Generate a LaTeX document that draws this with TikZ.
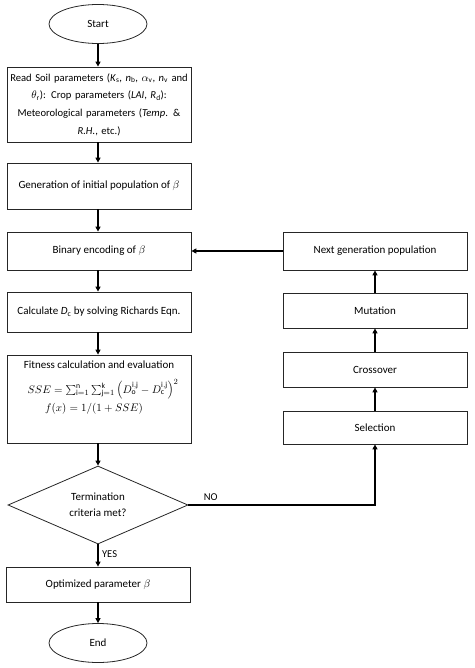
\documentclass[tikz,border=0pt]{standalone}
\usepackage{fontspec}
\setmainfont{Carlito}
\usetikzlibrary{shapes.geometric,arrows.meta}
\begin{document}
\begin{tikzpicture}[x=1pt,y=-1pt,
  font=\fontsize{11}{17.7}\selectfont,
  box/.style={draw=black!85,line width=0.8pt,rectangle,minimum width=184pt,align=center,inner sep=0pt},
  term/.style={draw=black!85,line width=0.8pt,ellipse,minimum width=98pt,minimum height=39pt,inner sep=0pt},
  dec/.style={draw=black!85,line width=0.8pt,diamond,minimum width=180pt,minimum height=78pt,inner sep=0pt,align=center,aspect=2.3,font=\fontsize{11}{16}\selectfont},
  arr/.style={draw=black,line width=1.6pt,-{Triangle[length=5pt,width=5pt]}},
  lbl/.style={font=\fontsize{10.5}{12}\selectfont},
  txt/.style={inner sep=0pt}]
\useasboundingbox (0,0) rectangle (474,668);
\node[term] (start) at (98,24) {Start};
\node[box,minimum height=75pt,text width=180pt,font=\fontsize{10.6}{17.7}\selectfont] (read) at (99,104.5) {Read Soil parameters (\textit{K}\textsubscript{s}, \textit{n}\textsubscript{b}, $\alpha$\textsubscript{v}, \textit{n}\textsubscript{v} and\\ $\theta$\textsubscript{r}): Crop parameters (\textit{LAI}, \textit{R}\textsubscript{d}):\\ Meteorological parameters (\textit{Temp}. \&\\ \textit{R.H.}, etc.)};
\node[box,minimum height=46pt] (gen) at (99,186) {Generation of initial population of $\beta$};
\node[box,minimum height=38pt] (bin) at (99,251) {Binary encoding of $\beta$};
\node[box,minimum height=40pt] (calc) at (99,312) {Calculate \textit{D}\textsubscript{c} by solving Richards Eqn.};
\node[box,minimum height=88pt] (fit) at (99,399) {};
\node[txt] (fit1) at (99,365) {Fitness calculation and evaluation};
\node[txt] (fit2) at (103,389.5) {$SSE=\sum_{\mathrm{i}=1}^{\mathrm{n}}\sum_{\mathrm{j}=1}^{\mathrm{k}}\left(D_{\mathrm{o}}^{\mathrm{i,j}}-D_{\mathrm{c}}^{\mathrm{i,j}}\right)^{2}$};
\node[txt] (fit3) at (94,409) {$f(x)=1/(1+SSE)$};
\node[dec] (term) at (98,505) {Termination\\ criteria met?};
\node[box,minimum height=35pt] (opt) at (98,584.5) {Optimized parameter $\beta$};
\node[term] (end) at (98,643) {End};
\node[box,minimum height=38pt] (next) at (375,251) {Next generation population};
\node[box,minimum height=35pt] (mut) at (375,310.5) {Mutation};
\node[box,minimum height=35pt] (cross) at (375,369.5) {Crossover};
\node[box,minimum height=33pt] (sel) at (375,427.5) {Selection};
\draw[arr] (start) -- (start|-read.north);
\draw[arr] (read.south-|start) -- (gen.north-|start);
\draw[arr] (gen.south-|start) -- (bin.north-|start);
\draw[arr] (bin.south-|start) -- (calc.north-|start);
\draw[arr] (calc.south-|start) -- (fit.north-|start);
\draw[arr] (fit.south-|start) -- (term.north);
\draw[arr] (term.south) -- node[lbl,right,pos=0.45] (yes) {YES} (opt.north-|term);
\draw[arr] (opt.south-|term) -- (end.north);
\draw[arr] (term.east) -- node[lbl,above,pos=0.12] (no) {NO} (term.east-|sel) -- (sel.south);
\draw[arr] (sel) -- (cross);
\draw[arr] (cross) -- (mut);
\draw[arr] (mut) -- (next);
\draw[arr] (next) -- (bin);
\end{tikzpicture}
\end{document}
